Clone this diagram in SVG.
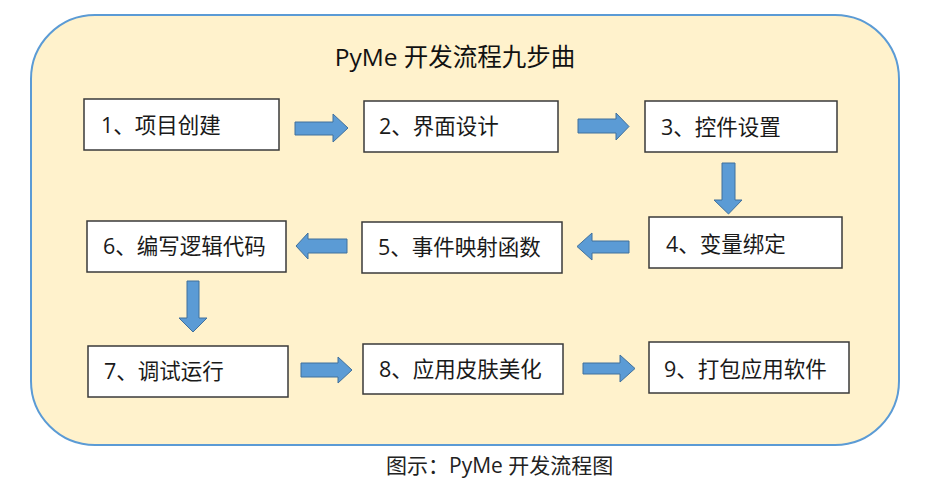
<svg xmlns="http://www.w3.org/2000/svg" width="937" height="489" viewBox="0 0 937 489">
<style>
.box{fill:#fff;stroke:#3a3a3a;stroke-width:1.5}
.lbl{font-family:"Open Sans","Noto Sans CJK SC",sans-serif;font-size:21.5px;fill:#1a1a1a}
.arr{fill:#5b9bd5;stroke:#41719c;stroke-width:1}
</style>
<rect width="937" height="489" fill="#fff"/>
<rect id="frame" x="31" y="15" width="868" height="430" rx="64" ry="64" fill="#fff2cc" stroke="#5b9bd5" stroke-width="2"/>
<text id="title" x="455" y="66" text-anchor="middle" font-family="Open Sans,Noto Sans CJK SC,sans-serif" font-size="24.5" fill="#111">PyMe 开发流程九步曲</text>
<g id="n1"><rect class="box" x="84" y="99" width="195" height="51"/><text class="lbl" x="101" y="133">1、项目创建</text></g>
<g id="n2"><rect class="box" x="364" y="101" width="194" height="51"/><text class="lbl" x="379" y="134">2、界面设计</text></g>
<g id="n3"><rect class="box" x="645" y="101" width="192" height="51"/><text class="lbl" x="661" y="135">3、控件设置</text></g>
<g id="n4"><rect class="box" x="649" y="217" width="193" height="51"/><text class="lbl" x="666" y="252">4、变量绑定</text></g>
<g id="n5"><rect class="box" x="362" y="222" width="200" height="51"/><text class="lbl" x="378" y="255">5、事件映射函数</text></g>
<g id="n6"><rect class="box" x="87" y="221" width="199" height="51"/><text class="lbl" x="103" y="254">6、编写逻辑代码</text></g>
<g id="n7"><rect class="box" x="88" y="346" width="200" height="51"/><text class="lbl" x="104" y="379">7、调试运行</text></g>
<g id="n8"><rect class="box" x="363" y="344" width="200" height="50"/><text class="lbl" x="379" y="377">8、应用皮肤美化</text></g>
<g id="n9"><rect class="box" x="649" y="342" width="200" height="51"/><text class="lbl" x="664" y="377">9、打包应用软件</text></g>
<g id="connectors">
<polygon class="arr" points="295,122 333,122 333,114 348,128 333,142 333,135 295,135"/>
<polygon class="arr" points="578,119 616,119 616,113 629,126.5 616,140 616,133 578,133"/>
<polygon class="arr" points="722,163 735,163 735,200 742,200 728.5,214 714,200 722,200"/>
<polygon class="arr" points="629,241 592,241 592,233 577,246.5 592,260 592,253 629,253"/>
<polygon class="arr" points="347,239 308,239 308,233 296,246 308,259 308,253 347,253"/>
<polygon class="arr" points="187,281 199,281 199,318 207,318 193,332 179,318 187,318"/>
<polygon class="arr" points="301,363 338,363 338,357 352,370 338,383 338,377 301,377"/>
<polygon class="arr" points="583,363 620,363 620,355 635,368.5 620,382 620,374 583,374"/>
</g>
<text id="caption" x="386" y="473" font-family="Open Sans,Noto Sans CJK SC,sans-serif" font-size="21" fill="#222">图示：PyMe 开发流程图</text>
</svg>
